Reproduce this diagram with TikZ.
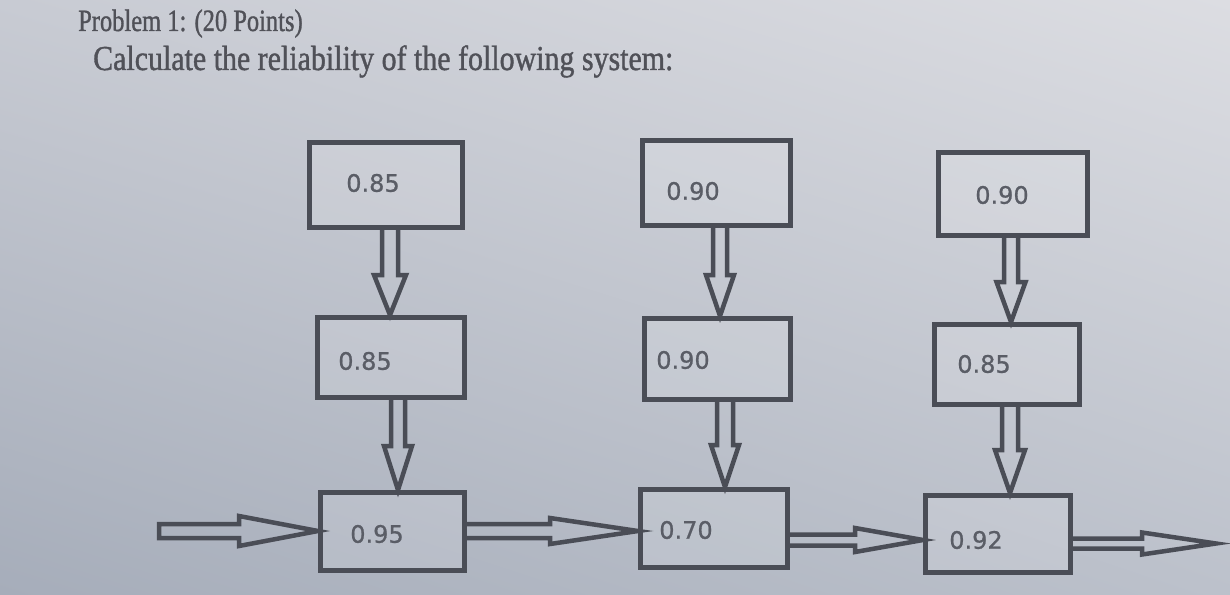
\documentclass[tikz,border=0pt]{standalone}
\usepackage{fontspec}
\setmainfont{Liberation Serif}
\newfontfamily\ttlfont[FakeBold=1.2]{Liberation Serif}
\newfontfamily\numfont[FakeBold=0.8]{DejaVu Sans}
\usetikzlibrary{calc,shadings}
\definecolor{bgUL}{HTML}{C8CBD3}
\definecolor{bgUR}{HTML}{DCDDE2}
\definecolor{bgLL}{HTML}{A6ADBA}
\definecolor{bgLR}{HTML}{BCC1CB}
\definecolor{lineC}{HTML}{4A4D56}
\definecolor{numC}{HTML}{5A5D66}
\definecolor{ttlC}{HTML}{505158}
\tikzset{
  blk/.style={draw=lineC, line width=5pt, fill=white, fill opacity=0.12, inner sep=0pt, rectangle},
  val/.style={text=numC, font=\numfont\fontsize{24}{28}\selectfont, inner sep=0pt},
  arr/.style={draw=lineC, line width=4.5pt, line join=miter},
  ttl/.style={text=ttlC, inner sep=0pt, anchor=base west}
}
% vertical hollow block arrow: from, to, x, shaft half, head half, head length
\newcommand\varrow[6]{\draw[arr] let \p1=(#1.south), \p2=(#2.north), \p3=(#3,0) in
  (\x3-#4pt,\y1) -- (\x3-#4pt,\y2+#6pt) -- (\x3-#5pt,\y2+#6pt) -- (\x3,\y2)
  -- (\x3+#5pt,\y2+#6pt) -- (\x3+#4pt,\y2+#6pt) -- (\x3+#4pt,\y1);}
% horizontal hollow block arrow: from, to, y, shaft half, head half, head length, end
\newcommand\harrow[7]{\draw[arr] let \p1=(#1), \p2=(#2), \p3=(0,#3) in
  (\x1,\y3+#4pt) -- (\x2-#6pt,\y3+#4pt) -- (\x2-#6pt,\y3+#5pt) -- (\x2,\y3)
  -- (\x2-#6pt,\y3-#5pt) -- (\x2-#6pt,\y3-#4pt) -- (\x1,\y3-#4pt) #7;}
\begin{document}
\begin{tikzpicture}[x=1pt,y=-1pt]
\useasboundingbox (0,0) rectangle (1230,594);
\shade[upper left=bgUL, upper right=bgUR, lower left=bgLL, lower right=bgLR] (0,0) rectangle (1230,594);

% title
\node[ttl, font=\ttlfont\fontsize{31}{34}\selectfont] (title) at (78,31) {\scalebox{0.79}[1]{Problem 1: (20 Points)}};
\node[ttl, font=\ttlfont\fontsize{35}{38}\selectfont] (task) at (93,70) {\scalebox{0.855}[1]{Calculate the reliability of the following system:}};

% boxes
\node[blk, minimum width=153pt, minimum height=85pt] (c1t) at (386,185) {};
\node[blk, minimum width=147pt, minimum height=80pt] (c1m) at (391,357.5) {};
\node[blk, minimum width=144pt, minimum height=78pt] (c1b) at (392.5,531.5) {};
\node[blk, minimum width=148pt, minimum height=85pt] (c2t) at (716.5,183) {};
\node[blk, minimum width=146pt, minimum height=81pt] (c2m) at (717.5,359) {};
\node[blk, minimum width=147pt, minimum height=78pt] (c2b) at (714,528.5) {};
\node[blk, minimum width=149pt, minimum height=83pt] (c3t) at (1013,194) {};
\node[blk, minimum width=145pt, minimum height=80pt] (c3m) at (1007,364.5) {};
\node[blk, minimum width=145pt, minimum height=77pt] (c3b) at (998,534) {};

% values
\node[val] (v1t) at (373,183) {0.85};
\node[val] (v1m) at (365,361) {0.85};
\node[val] (v1b) at (377,534) {0.95};
\node[val] (v2t) at (693,191) {0.90};
\node[val] (v2m) at (683,360) {0.90};
\node[val] (v2b) at (686,530) {0.70};
\node[val] (v3t) at (1002,195) {0.90};
\node[val] (v3m) at (984,364) {0.85};
\node[val] (v3b) at (976,540) {0.92};

% vertical arrows
\varrow{c1t}{c1m}{390}{8}{16}{40}
\varrow{c1m}{c1b}{398}{7}{14}{44}
\varrow{c2t}{c2m}{720}{7}{14}{41}
\varrow{c2m}{c2b}{725}{8}{14}{42}
\varrow{c3t}{c3m}{1011}{7}{14.5}{40}
\varrow{c3m}{c3b}{1010}{8}{15}{43}

% horizontal arrows
\coordinate (in) at (159,531);
\coordinate (out) at (1216,543.5);
\harrow{in}{c1b.west}{531}{7}{15}{79}{-- cycle}
\harrow{c1b.east}{c2b.west}{531}{7}{13}{88}{}
\harrow{c2b.east}{c3b.west}{540}{5.5}{12}{68}{}
\harrow{c3b.east}{out}{543.5}{5}{11}{74}{}
\end{tikzpicture}
\end{document}
